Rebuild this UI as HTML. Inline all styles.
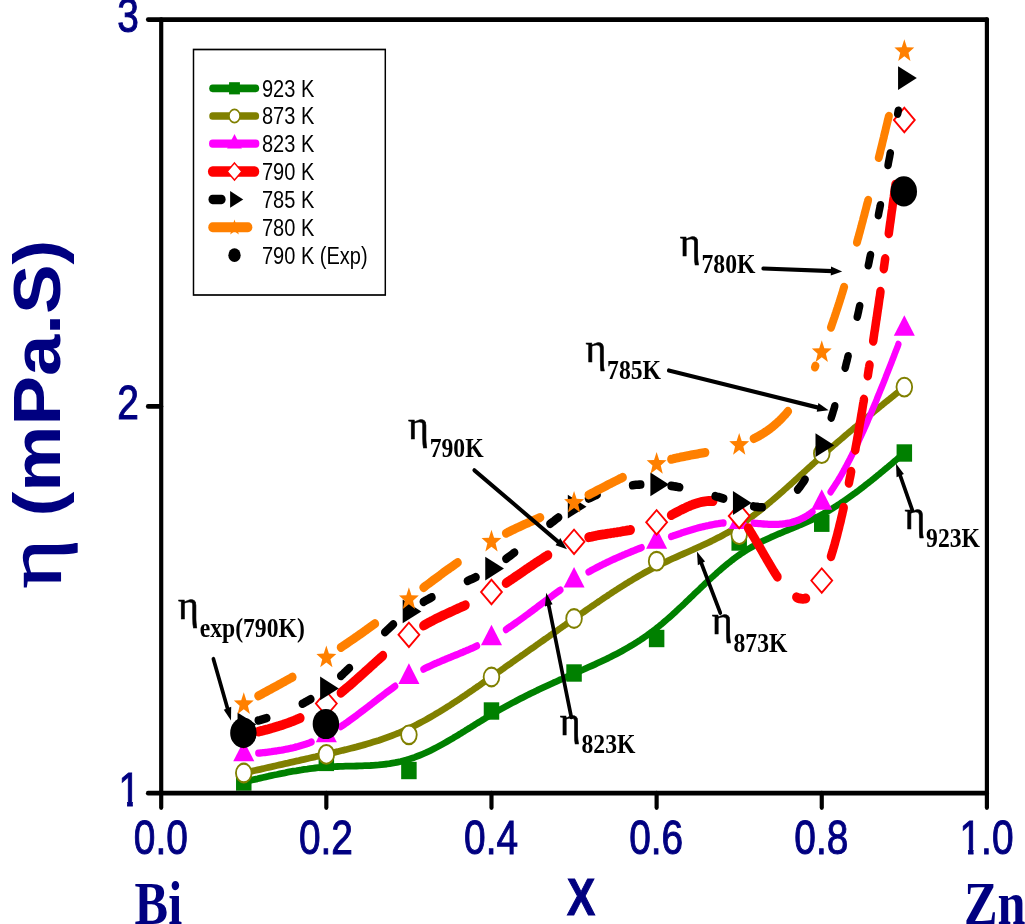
<!DOCTYPE html>
<html lang="en"><head><meta charset="utf-8"><title>Viscosity of Bi-Zn liquid alloys</title>
<style>html,body{margin:0;padding:0;background:#fff}body{width:1025px;height:924px;overflow:hidden}svg{display:block}</style>
</head><body>
<svg width="1025" height="924" viewBox="0 0 1025 924">
<rect width="1025" height="924" fill="#fff"/>
<g transform="scale(0.87,1)">
<g id="s-green">
<path d="M280.2 782 283.4 781.3 286.5 780.7 289.7 780 292.8 779.4 296 778.8 299.2 778.1 302.3 777.5 305.5 776.9 308.7 776.2 311.8 775.6 315 775 318.2 774.5 321.3 773.9 324.5 773.3 327.6 772.8 330.8 772.2 334 771.7 337.1 771.2 340.3 770.8 343.5 770.3 346.6 769.9 349.8 769.4 353 769.1 356.1 768.7 359.3 768.3 362.4 768 365.6 767.7 368.8 767.5 371.9 767.2 375.1 767 378.3 766.8 381.4 766.7 384.6 766.6 387.8 766.5 390.9 766.4 394.1 766.3 397.2 766.2 400.4 766.2 403.6 766.1 406.7 766.1 409.9 766 413.1 765.9 416.2 765.8 419.4 765.7 422.6 765.6 425.7 765.5 428.9 765.3 432 765.1 435.2 764.9 438.4 764.6 441.5 764.3 444.7 764 447.9 763.6 451 763.1 454.2 762.7 457.4 762.1 460.5 761.5 463.7 760.8 466.8 760.1 470 759.2 473.2 758.3 476.3 757.4 479.5 756.3 482.7 755.2 485.8 754.1 489 752.9 492.2 751.6 495.3 750.3 498.5 748.9 501.6 747.5 504.8 746 508 744.5 511.1 743 514.3 741.4 517.5 739.8 520.6 738.2 522.2 737.3 523.8 736.5 525.4 735.7 527 734.9 528.5 734 530.1 733.2 531.7 732.3 533.3 731.5 534.9 730.6 536.4 729.8 538 728.9 539.6 728.1 541.2 727.2 542.8 726.4 544.4 725.5 545.9 724.6 547.5 723.8 549.1 722.9 550.7 722.1 552.3 721.2 553.8 720.4 555.4 719.6 557 718.7 558.6 717.9 560.2 717 561.8 716.2 563.3 715.4 566.5 713.8 569.7 712.2 572.8 710.6 576 709 579.2 707.5 582.3 706 585.5 704.5 588.6 703 591.8 701.6 595 700.1 598.1 698.7 601.3 697.3 604.5 695.9 607.6 694.5 610.8 693.2 614 691.9 617.1 690.5 620.3 689.2 623.4 687.9 626.6 686.6 629.8 685.3 632.9 684.1 636.1 682.8 639.3 681.6 642.4 680.3 645.6 679.1 648.8 677.8 651.9 676.6 655.1 675.4 658.2 674.2 661.4 673 664.6 671.8 667.7 670.6 670.9 669.4 674.1 668.1 677.2 666.9 680.4 665.7 683.6 664.5 686.7 663.2 689.9 661.9 693 660.6 696.2 659.3 699.4 658 702.5 656.6 705.7 655.2 708.9 653.8 712 652.4 715.2 650.9 718.4 649.3 721.5 647.8 724.7 646.1 726.3 645.3 727.8 644.5 729.4 643.6 731 642.8 732.6 641.9 734.2 641 735.8 640.1 737.3 639.2 738.9 638.3 740.5 637.3 742.1 636.4 743.7 635.4 745.2 634.4 746.8 633.4 748.4 632.4 750 631.4 751.6 630.3 753.2 629.2 754.7 628.2 756.3 627.1 757.9 625.9 759.5 624.8 761.1 623.7 762.6 622.5 764.2 621.3 765.8 620.1 767.4 618.9 769 617.7 770.6 616.5 772.1 615.3 773.7 614 775.3 612.8 776.9 611.5 778.5 610.2 780 608.9 781.6 607.6 783.2 606.4 784.8 605.1 786.4 603.8 788 602.4 789.5 601.1 791.1 599.8 792.7 598.5 794.3 597.2 795.9 595.9 797.4 594.5 799 593.2 800.6 591.9 802.2 590.6 803.8 589.3 805.4 587.9 806.9 586.6 808.5 585.3 810.1 584 811.7 582.7 813.3 581.4 814.8 580.2 816.4 578.9 818 577.6 819.6 576.4 821.2 575.1 822.8 573.9 824.3 572.6 825.9 571.4 827.5 570.2 829.1 569 830.7 567.8 832.2 566.7 833.8 565.5 835.4 564.4 837 563.3 838.6 562.2 840.2 561.1 841.7 560 843.3 559 844.9 557.9 846.5 556.9 848.1 555.9 849.6 555 851.2 554 852.8 553.1 854.4 552.2 856 551.3 857.6 550.4 859.1 549.6 860.7 548.7 863.9 547.1 867 545.6 870.2 544.1 873.4 542.6 876.5 541.2 879.7 539.9 882.9 538.6 886 537.3 889.2 536.1 892.4 534.9 895.5 533.7 898.7 532.6 901.8 531.4 905 530.3 908.2 529.1 911.3 528 914.5 526.8 917.7 525.7 920.8 524.5 924 523.3 927.2 522.1 930.3 520.8 933.5 519.5 936.6 518.2 939.8 516.8 943 515.4 946.2 513.9 947.8 513.1 949.4 512.3 951 511.5 952.6 510.7 954.2 509.9 955.8 509 957.4 508.1 959 507.3 960.6 506.4 962.2 505.5 963.9 504.6 965.5 503.7 967.1 502.7 968.7 501.8 970.3 500.8 971.9 499.9 973.5 498.9 975.1 497.9 976.7 496.9 978.3 495.9 979.9 494.9 981.5 493.9 983.2 492.9 984.8 491.8 986.4 490.8 988 489.7 989.6 488.6 991.2 487.6 992.8 486.5 994.4 485.4 996 484.3 997.6 483.2 999.2 482.1 1000.9 481 1002.5 479.9 1004.1 478.7 1005.7 477.6 1007.3 476.5 1008.9 475.3 1010.5 474.2 1012.1 473 1013.7 471.9 1015.3 470.7 1016.9 469.5 1018.5 468.4 1020.2 467.2 1021.8 466 1023.4 464.9 1025 463.7 1026.6 462.5 1028.2 461.3 1029.8 460.1 1031.4 458.9 1033 457.8 1034.6 456.6 1036.2 455.4 1037.9 454.2 1039.5 453" fill="none" stroke="#008000" stroke-width="6.8" stroke-linejoin="round"/>
<rect x="271.3" y="773.3" width="17.8" height="17.4" fill="#008000"/>
<rect x="366.2" y="753.7" width="17.8" height="17.4" fill="#008000"/>
<rect x="461.11" y="761.8" width="17.8" height="17.4" fill="#008000"/>
<rect x="556.02" y="702.3" width="17.8" height="17.4" fill="#008000"/>
<rect x="650.93" y="664.3" width="17.8" height="17.4" fill="#008000"/>
<rect x="745.84" y="629.8" width="17.8" height="17.4" fill="#008000"/>
<rect x="840.74" y="533.3" width="17.8" height="17.4" fill="#008000"/>
<rect x="935.65" y="514.5" width="17.8" height="17.4" fill="#008000"/>
<rect x="1030.56" y="444.3" width="17.8" height="17.4" fill="#008000"/>
</g>
<g id="s-olive">
<path d="M280.2 773 283.4 772.4 286.5 771.8 289.7 771.1 292.8 770.5 296 769.9 299.2 769.3 302.3 768.7 305.5 768 308.7 767.4 311.8 766.8 315 766.2 318.2 765.5 321.3 764.9 324.5 764.3 327.6 763.7 330.8 763.1 334 762.4 337.1 761.8 340.3 761.2 343.5 760.6 346.6 759.9 349.8 759.3 353 758.7 356.1 758 359.3 757.4 362.4 756.8 365.6 756.1 368.8 755.5 371.9 754.9 375.1 754.2 378.3 753.6 381.4 753 384.6 752.3 387.8 751.7 390.9 751 394.1 750.3 397.2 749.7 400.4 749 403.6 748.3 406.7 747.6 409.9 746.9 413.1 746.1 416.2 745.4 419.4 744.6 422.6 743.8 425.7 743 428.9 742.1 432 741.3 435.2 740.4 438.4 739.4 441.5 738.5 444.7 737.5 447.9 736.5 451 735.5 454.2 734.4 457.4 733.3 460.5 732.1 463.7 730.9 466.8 729.7 470 728.4 473.2 727.1 476.3 725.8 479.5 724.4 482.7 722.9 485.8 721.5 489 720 492.2 718.4 495.3 716.9 498.5 715.3 501.6 713.6 503.2 712.8 504.8 712 506.4 711.1 508 710.3 509.6 709.4 511.1 708.6 512.7 707.7 514.3 706.8 515.9 706 517.5 705.1 519 704.2 520.6 703.3 522.2 702.4 523.8 701.5 525.4 700.6 527 699.7 528.5 698.8 530.1 697.8 531.7 696.9 533.3 696 534.9 695.1 536.4 694.1 538 693.2 539.6 692.2 541.2 691.3 542.8 690.4 544.4 689.4 545.9 688.4 547.5 687.5 549.1 686.5 550.7 685.6 552.3 684.6 553.8 683.7 555.4 682.7 557 681.7 558.6 680.8 560.2 679.8 561.8 678.8 563.3 677.9 564.9 676.9 566.5 675.9 568.1 674.9 569.7 674 571.2 673 572.8 672 574.4 671.1 576 670.1 577.6 669.1 579.2 668.2 580.7 667.2 582.3 666.2 583.9 665.2 585.5 664.3 587.1 663.3 588.6 662.3 590.2 661.4 591.8 660.4 593.4 659.4 595 658.4 596.6 657.5 598.1 656.5 599.7 655.5 601.3 654.6 602.9 653.6 604.5 652.6 606 651.6 607.6 650.7 609.2 649.7 610.8 648.7 612.4 647.8 614 646.8 615.5 645.8 617.1 644.8 618.7 643.9 620.3 642.9 621.9 641.9 623.4 641 625 640 626.6 639 628.2 638.1 629.8 637.1 631.4 636.1 632.9 635.1 634.5 634.2 636.1 633.2 637.7 632.2 639.3 631.3 640.8 630.3 642.4 629.3 644 628.4 645.6 627.4 647.2 626.4 648.8 625.5 650.3 624.5 651.9 623.5 653.5 622.6 655.1 621.6 656.7 620.6 658.2 619.7 659.8 618.7 661.4 617.7 663 616.8 664.6 615.8 666.2 614.8 667.7 613.9 669.3 612.9 670.9 612 672.5 611 674.1 610 675.6 609.1 677.2 608.1 678.8 607.2 680.4 606.2 682 605.3 683.6 604.3 685.1 603.4 686.7 602.5 688.3 601.5 689.9 600.6 691.5 599.6 693 598.7 694.6 597.8 696.2 596.9 697.8 596 699.4 595 701 594.1 702.5 593.2 704.1 592.3 705.7 591.4 707.3 590.5 708.9 589.6 710.4 588.7 712 587.9 713.6 587 715.2 586.1 716.8 585.2 718.4 584.4 719.9 583.5 721.5 582.7 723.1 581.8 724.7 581 726.3 580.2 727.8 579.3 729.4 578.5 732.6 576.9 735.8 575.3 738.9 573.7 742.1 572.2 745.2 570.7 748.4 569.2 751.6 567.7 754.7 566.3 757.9 564.9 761.1 563.6 764.2 562.3 767.4 561 770.6 559.7 773.7 558.4 776.9 557.2 780 556 783.2 554.7 786.4 553.5 789.5 552.3 792.7 551.1 795.9 549.9 799 548.6 802.2 547.4 805.4 546.2 808.5 544.9 811.7 543.6 814.8 542.3 818 541 821.2 539.6 824.3 538.2 827.5 536.8 830.7 535.3 833.8 533.8 837 532.3 840.2 530.7 841.7 529.8 843.3 529 844.9 528.2 846.5 527.3 848.1 526.4 849.6 525.5 851.2 524.6 852.8 523.7 854.4 522.8 856 521.8 857.6 520.9 859.1 519.9 860.7 518.9 862.3 517.9 863.9 516.9 865.5 515.9 867 514.8 868.6 513.8 870.2 512.7 871.8 511.6 873.4 510.6 875 509.5 876.5 508.4 878.1 507.3 879.7 506.1 881.3 505 882.9 503.9 884.4 502.7 886 501.6 887.6 500.4 889.2 499.2 890.8 498 892.4 496.9 893.9 495.7 895.5 494.5 897.1 493.3 898.7 492.1 900.3 490.8 901.8 489.6 903.4 488.4 905 487.2 906.6 485.9 908.2 484.7 909.8 483.5 911.3 482.2 912.9 481 914.5 479.7 916.1 478.5 917.7 477.2 919.2 476 920.8 474.7 922.4 473.5 924 472.2 925.6 471 927.2 469.7 928.7 468.5 930.3 467.2 931.9 466 933.5 464.7 935.1 463.5 936.6 462.2 938.2 461 939.8 459.7 941.4 458.5 943 457.2 944.6 456 946.2 454.8 947.8 453.5 949.4 452.3 951 451 952.6 449.8 954.2 448.6 955.8 447.4 957.4 446.1 959 444.9 960.6 443.7 962.2 442.5 963.9 441.3 965.5 440.1 967.1 438.9 968.7 437.7 970.3 436.5 971.9 435.3 973.5 434.1 975.1 432.9 976.7 431.8 978.3 430.6 979.9 429.4 981.5 428.2 983.2 427.1 984.8 425.9 986.4 424.7 988 423.6 989.6 422.4 991.2 421.2 992.8 420.1 994.4 418.9 996 417.8 997.6 416.6 999.2 415.5 1000.9 414.3 1002.5 413.2 1004.1 412 1005.7 410.9 1007.3 409.7 1008.9 408.6 1010.5 407.5 1012.1 406.3 1013.7 405.2 1015.3 404 1016.9 402.9 1018.5 401.8 1020.2 400.6 1021.8 399.5 1023.4 398.4 1025 397.3 1026.6 396.1 1028.2 395 1029.8 393.9 1031.4 392.7 1033 391.6 1034.6 390.5 1036.2 389.4 1037.9 388.2 1039.5 387.1" fill="none" stroke="#808000" stroke-width="6.8" stroke-linejoin="round"/>
<ellipse cx="280.2" cy="773" rx="9" ry="9.36" fill="#fff" stroke="#808000" stroke-width="2.1"/>
<ellipse cx="375.1" cy="754.4" rx="9" ry="9.36" fill="#fff" stroke="#808000" stroke-width="2.1"/>
<ellipse cx="470.01" cy="734.8" rx="9" ry="9.36" fill="#fff" stroke="#808000" stroke-width="2.1"/>
<ellipse cx="564.92" cy="677" rx="9" ry="9.36" fill="#fff" stroke="#808000" stroke-width="2.1"/>
<ellipse cx="659.83" cy="618.5" rx="9" ry="9.36" fill="#fff" stroke="#808000" stroke-width="2.1"/>
<ellipse cx="754.74" cy="561.2" rx="9" ry="9.36" fill="#fff" stroke="#808000" stroke-width="2.1"/>
<ellipse cx="849.64" cy="534.6" rx="9" ry="9.36" fill="#fff" stroke="#808000" stroke-width="2.1"/>
<ellipse cx="944.55" cy="453.6" rx="9" ry="9.36" fill="#fff" stroke="#808000" stroke-width="2.1"/>
<ellipse cx="1039.46" cy="387.1" rx="9" ry="9.36" fill="#fff" stroke="#808000" stroke-width="2.1"/>
</g>
<g id="s-mag">
<path d="M296.9 753.1 298.7 753 300.6 752.8 302.5 752.6 304.4 752.5 306.3 752.3 308.2 752.1 310.1 751.9 312 751.7 313.9 751.4 315.8 751.2 317.7 751 319.6 750.7 321.5 750.4 323.5 750.2 325.4 749.9 327.3 749.5 329.2 749.2 331.1 748.9 333 748.5 334.9 748.1 336.8 747.8 338.7 747.4 340.6 746.9 342.5 746.5 344.4 746 346.3 745.5 348.2 745 350.1 744.5 352 744 353.7 743.4 355.5 742.9 357.2 742.3 358.1 742 M391.8 726.6 393.3 725.7 394.9 724.8 396.5 723.8 398.1 722.9 399.7 721.9 401.2 720.9 402.8 719.9 404.4 718.9 406 717.9 407.6 716.9 409.2 715.9 410.8 714.8 412.3 713.8 413.9 712.7 415.5 711.7 417.1 710.6 418.7 709.6 420.3 708.5 421.8 707.5 423.4 706.4 425 705.3 426.6 704.3 428.2 703.2 429.8 702.1 431.4 701.1 432.9 700 434.5 698.9 436.1 697.9 437.7 696.8 439.3 695.8 440.9 694.7 442.4 693.7 444 692.6 445.6 691.6 447.2 690.6 448.8 689.6 450.4 688.6 451.9 687.6 453.5 686.6 454.2 686.2 M486.7 669.2 488.4 668.4 490.1 667.7 491.9 667 493.6 666.3 495.4 665.6 497.1 664.9 498.8 664.2 500.6 663.5 502.3 662.9 504.1 662.2 505.8 661.6 507.6 660.9 509.3 660.3 511 659.7 512.8 659 514.5 658.4 516.3 657.8 518 657.2 519.8 656.5 521.5 655.9 523.2 655.3 525 654.7 526.7 654.1 528.5 653.4 530.2 652.8 532 652.2 533.7 651.5 535.4 650.9 537.2 650.2 538.9 649.6 540.7 648.9 542.4 648.3 544.2 647.6 545.9 646.9 547.6 646.2 548.3 645.9 M581.6 629.6 583.1 628.7 584.7 627.7 586.3 626.8 587.9 625.9 589.5 624.9 591.1 623.9 592.6 623 594.2 622 595.8 621 597.4 620 599 619 600.6 618 602.2 617 603.7 616 605.3 615 606.9 614 608.5 612.9 610.1 611.9 611.7 610.9 613.2 609.9 614.8 608.8 616.4 607.8 618 606.7 619.6 605.7 621.2 604.7 622.8 603.6 624.3 602.6 625.9 601.6 627.5 600.5 629.1 599.5 630.7 598.5 632.3 597.5 633.8 596.5 635.4 595.4 637 594.4 638.6 593.4 640.2 592.4 641.8 591.4 643.3 590.5 644.1 590 M676.5 572 678.2 571.2 679.9 570.3 681.7 569.5 683.4 568.7 685.2 567.9 686.9 567.1 688.7 566.3 690.4 565.5 692.2 564.8 693.9 564 695.6 563.3 697.4 562.5 699.1 561.8 700.9 561.1 702.6 560.4 704.4 559.7 706.1 559 707.8 558.3 709.6 557.6 711.3 557 713.1 556.3 714.8 555.7 716.6 555 718.3 554.4 720 553.7 721.8 553.1 723.5 552.5 725.3 551.8 727 551.2 728.8 550.6 730.5 550 732.2 549.4 734 548.8 735.7 548.2 737.5 547.6 M771.4 536.6 773.3 536 775 535.4 776.8 534.9 778.5 534.4 780.2 533.9 782 533.4 783.9 532.8 785.8 532.3 787.7 531.7 789.6 531.2 791.5 530.7 793.4 530.2 795.3 529.7 797.2 529.2 799.1 528.7 801 528.3 802.9 527.8 804.8 527.4 806.7 527 808.6 526.6 810.5 526.2 812.4 525.8 814.3 525.5 816.2 525.1 818.1 524.8 820 524.5 821.9 524.2 823.8 523.9 825.7 523.7 827.6 523.4 829.5 523.2 831.4 523 831.6 523 M866.3 523.1 868.2 523.3 870.1 523.4 872 523.6 873.9 523.7 875.8 523.9 877.7 524 879.6 524.1 881.5 524.2 883.4 524.3 885.3 524.4 887.2 524.4 889.1 524.4 891 524.4 892.9 524.4 894.8 524.3 896.7 524.2 898.6 524.1 900.5 523.9 902.4 523.7 904.3 523.4 906.2 523.1 908.1 522.8 910 522.4 911.9 521.9 913.8 521.4 915.6 520.8 917.3 520.3 919 519.6 920.8 518.9 922.5 518.2 924.3 517.4 926 516.5 927.6 515.7 929.2 514.8 930.8 513.8 932.4 512.8 933.9 511.8 M954.7 491.9 955.8 490.5 956.9 489.1 958 487.6 959.1 486.2 960.2 484.7 961.3 483.2 962.5 481.6 963.6 480 964.5 478.7 965.5 477.3 966.4 475.9 967.4 474.4 968.3 473 969.3 471.5 970.2 470 971.2 468.5 972.1 467 973.1 465.5 974 463.9 975 462.3 975.9 460.7 976.9 459.1 977.8 457.5 978.8 455.9 979.7 454.2 980.7 452.5 981.6 450.8 982.6 449.1 983.5 447.4 984.5 445.7 985.3 444.2 986.1 442.8 986.9 441.3 987.6 439.8 988.4 438.3 989.2 436.8 990 435.3 990.8 433.8 991.6 432.2 992.4 430.7 993.2 429.2 994 427.6 994.8 426 995.6 424.5 996.4 422.9 997.2 421.3 997.9 419.7 998.7 418.1 999.5 416.5 1000.3 414.9 1001.1 413.3 1001.9 411.6 1002.7 410 1003.5 408.3 1004.3 406.7 1005.1 405 1005.9 403.4 1006.7 401.7 1007.5 400 1008.2 398.3 1009 396.6 1009.8 395 1010.6 393.3 1011.4 391.5 1012.2 389.8 1013 388.1 1013.8 386.4 1014.6 384.7 1015.4 383 1016.2 381.2 1017 379.5 1017.8 377.7 1018.5 376 1019.3 374.3 1020.1 372.5 1020.9 370.7 1021.7 369 1022.5 367.2 1023.3 365.5 1024.1 363.7 1024.9 361.9 1025.7 360.1 1026.5 358.4 1027.3 356.6 1028.1 354.8 1028.8 353 1029.6 351.2 1030.4 349.5 1031.2 347.7 1032 345.9 1032.6 344.4" fill="none" stroke="#ff00ff" stroke-width="7.3" stroke-linecap="round" stroke-linejoin="round"/>
<path d="M280.2 740.67 L292.3 761.27 L268.1 761.27 Z" fill="#ff00ff"/>
<path d="M375.1 721.57 L387.2 742.17 L363 742.17 Z" fill="#ff00ff"/>
<path d="M470.01 663.37 L482.11 683.97 L457.91 683.97 Z" fill="#ff00ff"/>
<path d="M564.92 624.77 L577.02 645.37 L552.82 645.37 Z" fill="#ff00ff"/>
<path d="M659.83 566.97 L671.93 587.57 L647.73 587.57 Z" fill="#ff00ff"/>
<path d="M754.74 528.17 L766.84 548.77 L742.64 548.77 Z" fill="#ff00ff"/>
<path d="M849.64 508.47 L861.74 529.07 L837.54 529.07 Z" fill="#ff00ff"/>
<path d="M944.55 489.27 L956.65 509.87 L932.45 509.87 Z" fill="#ff00ff"/>
<path d="M1039.46 315.27 L1051.56 335.87 L1027.36 335.87 Z" fill="#ff00ff"/>
</g>
<g id="s-red">
<path d="M296.9 731.7 298.7 731.3 300.6 730.9 302.5 730.5 304.4 730 306.3 729.6 308.2 729.2 310.1 728.7 312 728.2 313.9 727.8 315.8 727.3 317.7 726.8 319.6 726.3 321.5 725.7 323.5 725.2 325.4 724.7 327.1 724.1 328.8 723.6 330.6 723.1 332.3 722.5 334.1 722 335.8 721.4 337.6 720.8 339.3 720.2 341 719.5 342.8 718.9 344.5 718.2 345.2 718 M391.8 692.8 393.3 691.7 394.8 690.7 396.2 689.6 397.6 688.6 399 687.5 400.5 686.5 401.9 685.4 403.3 684.4 404.7 683.3 406.2 682.2 407.6 681.1 409 680 410.4 678.9 411.9 677.8 413.3 676.7 414.7 675.6 416.1 674.5 417.6 673.4 419 672.2 420.4 671.1 421.8 670 423.3 668.9 424.7 667.8 426.1 666.6 427.5 665.5 429 664.4 430.4 663.3 431.8 662.1 433.3 661 434.7 659.9 436.1 658.8 437.5 657.7 439 656.6 440.1 655.7 M486.7 625.6 488.4 624.8 490.1 623.9 491.9 623.1 493.6 622.3 495.4 621.4 497.1 620.7 498.8 619.9 500.6 619.1 502.3 618.3 504.1 617.6 505.8 616.9 507.6 616.1 509.3 615.4 511 614.7 512.8 614 514.5 613.3 516.3 612.6 518 611.9 519.8 611.2 521.5 610.5 523.2 609.8 525 609.1 526.7 608.4 528.5 607.7 530.2 607 532 606.4 533.7 605.7 535 605.1 M581.6 583.1 583.1 582.2 584.7 581.3 586.3 580.3 587.9 579.4 589.5 578.5 591.1 577.6 592.6 576.6 594.2 575.7 595.8 574.8 597.4 573.8 599 572.9 600.6 571.9 602.2 571 603.7 570 605.3 569.1 606.9 568.2 608.5 567.2 610.1 566.3 611.7 565.4 613.2 564.4 614.8 563.5 616.4 562.6 618 561.7 619.6 560.8 621.2 559.9 622.8 559 624.3 558.1 625.9 557.2 627.5 556.4 629.1 555.5 629.9 555.1 M676.5 537.3 678.4 536.9 680.3 536.6 682.2 536.2 684.1 535.9 686 535.5 687.9 535.2 689.8 534.9 691.7 534.6 693.6 534.3 695.5 534.1 697.4 533.8 699.3 533.5 701.2 533.3 703.1 533 705 532.8 706.9 532.5 708.8 532.3 710.7 532 712.6 531.8 714.5 531.5 716.4 531.2 718.3 531 720.2 530.7 722.1 530.4 724 530.1 724.9 529.9 M771.4 515.2 773.1 514.4 774.9 513.6 776.6 512.8 778.3 512 780.1 511.2 781.8 510.4 783.6 509.6 785.3 508.9 787.1 508.2 788.8 507.4 790.5 506.7 792.3 506.1 794 505.4 795.8 504.8 797.5 504.3 799.3 503.7 801.2 503.2 803.1 502.7 805 502.3 806.9 501.9 808.8 501.6 810.7 501.3 812.6 501.1 814.5 501 816.4 501 818.3 501 819.8 501.1 M860 528.1 861.1 529.5 862.2 531 863.3 532.6 864.4 534.1 865.5 535.7 866.6 537.3 867.5 538.7 868.5 540.1 869.4 541.5 870.4 542.9 871.4 544.3 872.3 545.7 873.3 547.2 874.2 548.6 875.2 550 876.1 551.5 877.1 552.9 878 554.4 879 555.8 879.9 557.2 880.9 558.7 881.8 560.1 882.8 561.5 883.7 562.9 884.7 564.3 885.6 565.7 886.6 567.1 887.7 568.7 888.8 570.3 889.9 571.8 891 573.4 892.1 574.9 893.2 576.4 893.6 576.8 M915.4 597.2 917.1 597.9 919 598.4 920.9 598.7 922.8 598.8 924.7 598.7 926.4 598.4 M955.2 556.4 955.8 554.7 956.4 552.9 957.1 551 957.7 549.2 958.3 547.3 959 545.3 959.6 543.4 960.2 541.4 960.9 539.3 961.5 537.3 962 535.7 962.5 534.1 962.9 532.5 963.4 530.9 963.9 529.3 964.4 527.6 964.8 525.9 965.3 524.2 965.8 522.5 966.3 520.8 966.7 519.1 967.2 517.3 967.7 515.5 968.2 513.7 968.6 511.9 969.1 510.1 969.6 508.2 969.7 507.6 M975.8 482.9 976.2 480.8 976.7 478.7 977.2 476.7 977.7 474.6 978.1 472.4 978.3 471.7 M983.1 449.8 983.5 447.5 984 445.2 984.5 442.9 985 440.6 985.4 438.3 985.9 436 986.4 433.6 986.9 431.3 987.2 429.7 987.5 428.1 987.8 426.5 988.1 424.9 988.4 423.3 988.8 421.7 989.1 420.1 989.4 418.5 989.7 416.9 990 415.2 990.3 413.6 990.7 412 991 410.3 991.3 408.7 991.6 407 991.9 405.4 992.2 403.7 992.6 402 992.9 400.4 993 399.5 M997.5 375.6 997.8 373.9 998.1 372.1 998.4 370.4 998.7 368.6 999.1 366.9 999.4 365.1 M1003.7 340.9 1004 339.1 1004.3 337.3 1004.6 335.5 1004.9 333.6 1005.2 331.8 1005.6 330 1005.9 328.1 1006.2 326.3 1006.5 324.4 1006.8 322.6 1007.1 320.7 1007.5 318.9 1007.8 317 1008.1 315.2 1008.4 313.3 1008.7 311.4 1009 309.6 1009.4 307.7 1009.7 305.8 1010 303.9 1010.3 302 1010.6 300.1 1010.9 298.3 1011.3 296.4 1011.6 294.5 1011.9 292.6 1012 291.6 M1015.9 268.6 1016.2 266.6 1016.5 264.7 1016.8 262.8 1017.1 260.8 1017.4 258.9 M1021.6 233.4 1021.9 231.4 1022.2 229.5 1022.5 227.5 1022.8 225.5 1023.1 223.5 1023.5 221.5 1023.8 219.6 1024.1 217.6 1024.4 215.6 1024.7 213.6 1025 211.6 1025.4 209.6 1025.7 207.6 1026 205.6 1026.3 203.6 1026.6 201.6 1026.9 199.6 1027.3 197.6 1027.6 195.6 1027.9 193.6 1028.2 191.6 1028.5 189.6 1028.8 187.6 1029.2 185.6 1029.3 184.6" fill="none" stroke="#ff0000" stroke-width="9.8" stroke-linecap="round" stroke-linejoin="round"/>
<path d="M280.2 723 L292.2 735.2 L280.2 747.4 L268.2 735.2 Z" fill="#fff" stroke="#ff0000" stroke-width="2"/>
<path d="M375.1 691.4 L387.1 703.6 L375.1 715.8 L363.1 703.6 Z" fill="#fff" stroke="#ff0000" stroke-width="2"/>
<path d="M470.01 622.6 L482.01 634.8 L470.01 647 L458.01 634.8 Z" fill="#fff" stroke="#ff0000" stroke-width="2"/>
<path d="M564.92 579.8 L576.92 592 L564.92 604.2 L552.92 592 Z" fill="#fff" stroke="#ff0000" stroke-width="2"/>
<path d="M659.83 529.6 L671.83 541.8 L659.83 554 L647.83 541.8 Z" fill="#fff" stroke="#ff0000" stroke-width="2"/>
<path d="M754.74 510.1 L766.74 522.3 L754.74 534.5 L742.74 522.3 Z" fill="#fff" stroke="#ff0000" stroke-width="2"/>
<path d="M849.64 503.8 L861.64 516 L849.64 528.2 L837.64 516 Z" fill="#fff" stroke="#ff0000" stroke-width="2"/>
<path d="M944.55 568.4 L956.55 580.6 L944.55 592.8 L932.55 580.6 Z" fill="#fff" stroke="#ff0000" stroke-width="2"/>
<path d="M1039.46 107.8 L1051.46 120 L1039.46 132.2 L1027.46 120 Z" fill="#fff" stroke="#ff0000" stroke-width="2"/>
</g>
<g id="s-black">
<path d="M296.9 720.5 298.7 720.1 300.6 719.6 302.5 719.1 304.4 718.6 306.3 718.1 306.6 718 M347.5 703.8 349.1 703.1 350.9 702.2 352.6 701.4 354.3 700.5 356.1 699.6 357.2 699.1 M391.8 676 393.2 674.9 394.6 673.8 396 672.6 397.4 671.4 398.9 670.2 400.3 669 401.5 668 M442.4 632.3 443.7 631.2 445.1 630 446.6 628.8 448 627.7 449.4 626.5 450.8 625.4 452.1 624.3 M486.7 601.9 488.4 601 490.1 600.2 491.9 599.3 493.6 598.5 495.4 597.7 496.4 597.2 M537.3 581 539.1 580.3 540.8 579.6 542.6 578.9 544.3 578.2 546.1 577.5 547.1 577.1 M581.6 558.9 583.1 557.9 584.7 556.8 586.3 555.8 587.9 554.8 589.5 553.7 591.1 552.7 591.4 552.5 M632.2 523.9 633.7 522.9 635.3 521.8 636.9 520.8 638.4 519.7 640 518.7 641.6 517.7 642 517.4 M676.5 498.6 678.2 497.9 679.9 497.2 681.7 496.5 683.4 495.8 685.2 495.1 686.3 494.7 M727.1 485.2 729.1 485 731 484.8 732.9 484.7 734.8 484.6 736.5 484.5 M771.4 485.9 773.3 486.1 775.2 486.4 777.1 486.6 779 486.9 780.9 487.2 781.2 487.3 M822 496.1 823.8 496.6 825.7 497 827.6 497.5 829.5 498 831.4 498.5 831.8 498.6 M866.3 506.4 868.2 506.7 870.1 506.9 872 507.1 873.9 507.2 875.8 507.3 876.1 507.3 M916.9 489.6 918.1 488.4 919.4 487 920.6 485.5 921.7 484.2 922.8 482.8 924 481.4 925.1 479.9 925.3 479.6 M955.5 417.7 956.1 415.9 956.8 414.1 957.4 412.3 958 410.5 958.7 408.7 959.3 406.8 959.4 406.3 M971.5 367.8 972 366.2 972.4 364.5 972.9 362.9 973.4 361.2 973.9 359.6 974.3 357.9 974.8 356.2 M985.4 316.7 985.9 314.8 986.4 312.9 986.9 311.1 987.3 309.2 987.8 307.3 988.1 306.1 M998.1 265.2 998.6 263.2 999.1 261.2 999.5 259.1 1000 257.1 1000.5 255.1 M1009.7 215.1 1010.1 212.9 1010.6 210.8 1011.1 208.7 1011.6 206.6 1011.9 205.2 M1020.8 165 1021.2 162.8 1021.7 160.6 1022.2 158.4 1022.7 156.2 1023.1 154 1023.3 153.3 M1031.9 113.6 1032.3 111.4 1032.5 110.7" fill="none" stroke="#000000" stroke-width="8.6" stroke-linecap="round" stroke-linejoin="round"/>
<path d="M273.03 712.6 L294.53 724.5 L273.03 736.4 Z" fill="#000000"/>
<path d="M367.94 676.5 L389.44 688.4 L367.94 700.3 Z" fill="#000000"/>
<path d="M462.84 599.5 L484.34 611.4 L462.84 623.3 Z" fill="#000000"/>
<path d="M557.75 556.7 L579.25 568.6 L557.75 580.5 Z" fill="#000000"/>
<path d="M652.66 494.8 L674.16 506.7 L652.66 518.6 Z" fill="#000000"/>
<path d="M747.57 472.5 L769.07 484.4 L747.57 496.3 Z" fill="#000000"/>
<path d="M842.48 491.1 L863.98 503 L842.48 514.9 Z" fill="#000000"/>
<path d="M937.39 433.3 L958.89 445.2 L937.39 457.1 Z" fill="#000000"/>
<path d="M1032.29 66.2 L1053.79 78.1 L1032.29 90 Z" fill="#000000"/>
</g>
<g id="s-orange">
<path d="M296.9 695.9 298.6 695.1 300.3 694.3 302.1 693.5 303.8 692.6 305.5 691.8 307.3 691 309 690.2 310.8 689.4 312.5 688.5 314.3 687.7 316 686.9 317.7 686.1 319.5 685.2 321.2 684.4 323 683.6 324.7 682.7 326.5 681.9 328.2 681 329.9 680.2 331.7 679.3 333.4 678.5 335.2 677.6 336.2 677.1 M391.8 647.5 393.3 646.6 394.9 645.6 396.5 644.7 398.1 643.8 399.7 642.8 401.2 641.9 402.8 641 404.4 640 406 639.1 407.6 638.1 409.2 637.1 410.8 636.2 412.3 635.2 413.9 634.3 415.5 633.3 417.1 632.3 418.7 631.3 420.3 630.4 421.8 629.4 423.4 628.4 425 627.4 426.6 626.4 428.2 625.4 429.8 624.4 431.1 623.6 M486.7 587.6 488.2 586.6 489.8 585.5 491.4 584.5 493 583.5 494.6 582.4 496.2 581.4 497.7 580.4 499.3 579.3 500.9 578.3 502.5 577.3 504.1 576.3 505.7 575.3 507.2 574.3 508.8 573.2 510.4 572.2 512 571.2 513.6 570.2 515.2 569.2 516.8 568.3 518.3 567.3 519.9 566.3 521.5 565.3 523.1 564.3 524.7 563.4 526.1 562.5 M581.6 533.3 583.3 532.5 585 531.8 586.8 531 588.5 530.3 590.3 529.6 592 528.8 593.8 528.1 595.5 527.4 597.2 526.7 599 526 600.7 525.3 602.5 524.6 604.2 523.9 606 523.2 607.7 522.6 609.4 521.9 611.2 521.2 612.9 520.5 614.7 519.9 616.4 519.2 618.2 518.5 619.9 517.9 621 517.5 M676.5 494.9 678.2 494.2 679.9 493.4 681.7 492.6 683.4 491.8 685.2 491 686.9 490.2 688.7 489.4 690.4 488.7 692.2 487.9 693.9 487.1 695.6 486.3 697.4 485.5 699.1 484.7 700.9 483.9 702.6 483.2 704.4 482.4 706.1 481.6 707.8 480.9 709.6 480.1 711.3 479.3 713.1 478.6 714.8 477.8 715.9 477.4 M771.4 459.2 773.3 458.9 775.2 458.5 777.1 458.1 779 457.7 780.9 457.4 782.8 457 784.7 456.7 786.6 456.4 788.5 456.1 790.4 455.7 792.3 455.4 794.2 455.1 796.1 454.8 798 454.5 799.9 454.2 801.8 453.9 803.7 453.6 805.6 453.3 807.5 453 809.4 452.7 810.8 452.5 M866.3 438.6 868 437.9 869.8 437.1 871.5 436.3 873.3 435.5 875 434.6 876.6 433.8 878.2 432.9 879.7 432 881.3 431.1 882.9 430.1 884.5 429.1 886.1 428.1 887.7 427 889.1 426 890.5 424.9 891.9 423.8 893.4 422.7 894.8 421.6 896.2 420.4 897.7 419.2 899.1 417.9 900.3 416.7 901.6 415.5 902.9 414.3 904.1 413 905.4 411.7 905.7 411.4 M936.8 367 937.2 366.1 M955.2 327.2 955.8 325.7 956.4 324.1 957.1 322.5 957.7 320.9 958.3 319.3 959 317.7 959.6 316.1 960.2 314.4 960.9 312.8 961.5 311.1 962.1 309.4 962.8 307.8 963.4 306.1 964 304.4 964.7 302.6 965.3 300.9 965.9 299.2 966.6 297.4 967.2 295.7 967.8 293.9 968.5 292.1 969.1 290.3 969.7 288.5 970.2 287.2 M985.1 242.1 985.7 240.1 986.4 238.1 987 236.1 987.6 234 988.3 232 988.9 229.9 989.4 228.4 989.9 226.8 990.3 225.3 990.8 223.7 991.3 222.1 991.8 220.6 992.2 219 992.7 217.4 993.2 215.8 993.7 214.3 994.1 212.7 994.6 211.1 995.1 209.5 995.6 207.9 996 206.3 996.5 204.7 997 203.1 997.5 201.5 997.8 200.4 M1010.1 157.5 1010.6 155.8 1011.1 154.1 1011.6 152.4 1012 150.7 1012.5 149 1013 147.3 1013.5 145.6 1014 143.9 1014.4 142.2 1014.9 140.5 1015.4 138.8 1015.9 137.1 1016.3 135.3 1016.8 133.6 1017.3 131.9 1017.8 130.2 1018.2 128.5 1018.7 126.8 1019.2 125 1019.7 123.3 1020.1 121.6 1020.6 119.9 1021.1 118.1 1021.6 116.4" fill="none" stroke="#ff8000" stroke-width="9.1" stroke-linecap="round" stroke-linejoin="round"/>
<path d="M280.2 692.3 L283.13 700.25 L291.61 700.59 L284.95 705.85 L287.25 714.01 L280.2 709.3 L273.14 714.01 L275.44 705.85 L268.78 700.59 L277.26 700.25 Z" fill="#ff8000"/>
<path d="M375.1 645.6 L378.04 653.55 L386.52 653.89 L379.86 659.15 L382.16 667.31 L375.1 662.6 L368.05 667.31 L370.35 659.15 L363.69 653.89 L372.16 653.55 Z" fill="#ff8000"/>
<path d="M470.01 587.2 L472.95 595.15 L481.42 595.49 L474.77 600.75 L477.06 608.91 L470.01 604.2 L462.96 608.91 L465.26 600.75 L458.6 595.49 L467.07 595.15 Z" fill="#ff8000"/>
<path d="M564.92 529.7 L567.86 537.65 L576.33 537.99 L569.67 543.25 L571.97 551.41 L564.92 546.7 L557.87 551.41 L560.16 543.25 L553.51 537.99 L561.98 537.65 Z" fill="#ff8000"/>
<path d="M659.83 490.9 L662.77 498.85 L671.24 499.19 L664.58 504.45 L666.88 512.61 L659.83 507.9 L652.77 512.61 L655.07 504.45 L648.41 499.19 L656.89 498.85 Z" fill="#ff8000"/>
<path d="M754.74 452 L757.67 459.95 L766.15 460.29 L759.49 465.55 L761.79 473.71 L754.74 469 L747.68 473.71 L749.98 465.55 L743.32 460.29 L751.8 459.95 Z" fill="#ff8000"/>
<path d="M849.64 433 L852.58 440.95 L861.06 441.29 L854.4 446.55 L856.7 454.71 L849.64 450 L842.59 454.71 L844.89 446.55 L838.23 441.29 L846.7 440.95 Z" fill="#ff8000"/>
<path d="M944.55 340.2 L947.49 348.15 L955.96 348.49 L949.31 353.75 L951.61 361.91 L944.55 357.2 L937.5 361.91 L939.8 353.75 L933.14 348.49 L941.61 348.15 Z" fill="#ff8000"/>
<path d="M1039.46 39.2 L1042.4 47.15 L1050.87 47.49 L1044.22 52.75 L1046.51 60.91 L1039.46 56.2 L1032.41 60.91 L1034.7 52.75 L1028.05 47.49 L1036.52 47.15 Z" fill="#ff8000"/>
</g>
<g id="s-exp">
<ellipse cx="279.77" cy="732.9" rx="15.2" ry="15.1" fill="#000"/>
<ellipse cx="374.6" cy="724" rx="15.2" ry="15.1" fill="#000"/>
<ellipse cx="1038.85" cy="191.4" rx="15.2" ry="15.1" fill="#000"/>
</g>
<g stroke="#000" stroke-width="4.8" stroke-linecap="round" fill="none">
<path d="M170.11 19.6 H1134.37"/>
<path d="M170.11 793.2 H1134.37"/>
<path d="M170.11 406.4 H185.29"/>
<path d="M185.29 19.6 V807.6"/>
<path d="M1134.37 19.6 V807.6"/>
<path d="M375.1 793.2 V807.6"/>
<path d="M564.92 793.2 V807.6"/>
<path d="M754.74 793.2 V807.6"/>
<path d="M944.55 793.2 V807.6"/>
</g>
<rect x="222.41" y="49.5" width="220.46" height="245.5" fill="#fff" stroke="#000" stroke-width="1.7"/>
<path d="M244.37 88.3 H294.02" stroke="#008000" stroke-width="7.7" stroke-linecap="round"/>
<rect x="263.31" y="82.21" width="12.46" height="12.18" fill="#008000"/>
<path d="M244.37 116 H294.02" stroke="#808000" stroke-width="7.7" stroke-linecap="round"/>
<ellipse cx="269.54" cy="116" rx="6.3" ry="6.55" fill="#fff" stroke="#808000" stroke-width="1.68"/>
<path d="M244.37 143.7 H294.02" stroke="#ff00ff" stroke-width="8.2" stroke-linecap="round"/>
<path d="M269.54 134.09 L278.01 148.51 L261.07 148.51 Z" fill="#ff00ff"/>
<path d="M244.37 171.5 H292.64" stroke="#ff0000" stroke-width="10.7" stroke-linecap="round"/>
<path d="M269.54 162.96 L277.94 171.5 L269.54 180.04 L261.14 171.5 Z" fill="#fff" stroke="#ff0000" stroke-width="1.6"/>
<path d="M244.37 199.4 H254.6" stroke="#000000" stroke-width="9.5" stroke-linecap="round"/>
<path d="M264.52 191.07 L279.57 199.4 L264.52 207.73 Z" fill="#000000"/>
<path d="M244.37 227.3 H285.06" stroke="#ff8000" stroke-width="10" stroke-linecap="round"/>
<path d="M269.54 219.39 L271.6 224.96 L277.53 225.19 L272.87 228.87 L274.48 234.59 L269.54 231.29 L264.6 234.59 L266.21 228.87 L261.55 225.19 L267.48 224.96 Z" fill="#ff8000"/>
<ellipse cx="269.54" cy="255.2" rx="7.1" ry="6.9" fill="#000"/>
<path d="M877.24 268.5 L957.05 271.14" stroke="#000" stroke-width="4.2" stroke-linecap="round"/><path d="M968.05 271.5 L954.9 275.57 L955.2 266.57 Z" fill="#000"/>
<path d="M768.74 370.5 L941.66 407.88" stroke="#000" stroke-width="4.2" stroke-linecap="round"/><path d="M952.41 410.2 L938.76 411.85 L940.66 403.06 Z" fill="#000"/>
<path d="M545.17 470.2 L642.89 542.74" stroke="#000" stroke-width="4.2" stroke-linecap="round"/><path d="M651.72 549.3 L638.6 545.16 L643.97 537.94 Z" fill="#000"/>
<path d="M245.29 659 L262.09 710.15" stroke="#000" stroke-width="4.2" stroke-linecap="round"/><path d="M265.52 720.6 L257.19 709.65 L265.74 706.84 Z" fill="#000"/>
<path d="M656.67 717.2 L630.3 603.42" stroke="#000" stroke-width="4.2" stroke-linecap="round"/><path d="M627.82 592.7 L635.13 604.35 L626.37 606.38 Z" fill="#000"/>
<path d="M827.93 612.9 L805.45 561.58" stroke="#000" stroke-width="4.2" stroke-linecap="round"/><path d="M801.03 551.5 L810.37 561.6 L802.13 565.21 Z" fill="#000"/>
<path d="M1048.62 510.1 L1033.99 473.71" stroke="#000" stroke-width="4.2" stroke-linecap="round"/><path d="M1029.89 463.5 L1038.91 473.88 L1030.56 477.24 Z" fill="#000"/>
</g>
<defs><clipPath id="c1"><path d="M100 760 H145 V800.6 H132.8 V808 H127.1 V800.6 H100 Z"/></clipPath><clipPath id="c10"><path d="M950 815 H1025 V860 H982 V848.4 H973.5 V860 H968.1 V848.4 H950 Z"/></clipPath></defs>
<text transform="translate(160.8,853.5) scale(0.816,1)" font-family="'Liberation Sans', Arial, sans-serif" font-size="47.6" fill="#000080" text-anchor="middle" stroke="#000080" stroke-width="1">0.0</text>
<text transform="translate(325.94,853.5) scale(0.816,1)" font-family="'Liberation Sans', Arial, sans-serif" font-size="47.6" fill="#000080" text-anchor="middle" stroke="#000080" stroke-width="1">0.2</text>
<text transform="translate(491.08,853.5) scale(0.816,1)" font-family="'Liberation Sans', Arial, sans-serif" font-size="47.6" fill="#000080" text-anchor="middle" stroke="#000080" stroke-width="1">0.4</text>
<text transform="translate(656.22,853.5) scale(0.816,1)" font-family="'Liberation Sans', Arial, sans-serif" font-size="47.6" fill="#000080" text-anchor="middle" stroke="#000080" stroke-width="1">0.6</text>
<text transform="translate(821.36,853.5) scale(0.816,1)" font-family="'Liberation Sans', Arial, sans-serif" font-size="47.6" fill="#000080" text-anchor="middle" stroke="#000080" stroke-width="1">0.8</text>
<g clip-path="url(#c10)"><text transform="translate(986.5,853.5) scale(0.816,1)" font-family="'Liberation Sans', Arial, sans-serif" font-size="47.6" fill="#000080" text-anchor="middle" stroke="#000080" stroke-width="1">1.0</text></g>
<text transform="translate(138.8,32.4) scale(0.816,1)" font-family="'Liberation Sans', Arial, sans-serif" font-size="47.6" fill="#000080" text-anchor="end" stroke="#000080" stroke-width="1">3</text>
<text transform="translate(138.8,419.2) scale(0.816,1)" font-family="'Liberation Sans', Arial, sans-serif" font-size="47.6" fill="#000080" text-anchor="end" stroke="#000080" stroke-width="1">2</text>
<g clip-path="url(#c1)"><text transform="translate(140.1,806) scale(0.816,1)" font-family="'Liberation Sans', Arial, sans-serif" font-size="47.6" fill="#000080" text-anchor="end" stroke="#000080" stroke-width="1">1</text></g>
<text transform="translate(581,914.6) scale(0.82,1)" font-family="'Liberation Sans', Arial, sans-serif" font-size="51.5" fill="#000080" font-weight="bold" text-anchor="middle" stroke="#000080" stroke-width="1.1">X</text>
<text transform="translate(134.6,924.3) scale(0.832,1)" font-family="'Liberation Serif', 'Times New Roman', serif" font-size="60.5" fill="#000080" font-weight="bold">Bi</text>
<text transform="translate(964,924.3) scale(0.832,1)" font-family="'Liberation Serif', 'Times New Roman', serif" font-size="60.5" fill="#000080" font-weight="bold">Zn</text>
<text transform="translate(60.3,516.4) rotate(-90) scale(1,0.905)" font-family="'Liberation Sans', Arial, sans-serif" font-weight="bold" font-size="74.3" fill="#000080">(mPa.S)</text>
<text transform="translate(59.5,588.2) rotate(-90) scale(1.05,0.87)" font-family="'Liberation Serif', 'Times New Roman', serif" font-size="90" fill="#000080" stroke="#000080" stroke-width="1.6">η</text>
<text transform="translate(262,96.6) scale(0.87,1)" font-family="'Liberation Sans', Arial, sans-serif" font-size="23" fill="#000">923 K</text>
<text transform="translate(262,124.3) scale(0.87,1)" font-family="'Liberation Sans', Arial, sans-serif" font-size="23" fill="#000">873 K</text>
<text transform="translate(262,152) scale(0.87,1)" font-family="'Liberation Sans', Arial, sans-serif" font-size="23" fill="#000">823 K</text>
<text transform="translate(262,179.8) scale(0.87,1)" font-family="'Liberation Sans', Arial, sans-serif" font-size="23" fill="#000">790 K</text>
<text transform="translate(262,207.7) scale(0.87,1)" font-family="'Liberation Sans', Arial, sans-serif" font-size="23" fill="#000">785 K</text>
<text transform="translate(262,235.6) scale(0.87,1)" font-family="'Liberation Sans', Arial, sans-serif" font-size="23" fill="#000">780 K</text>
<text transform="translate(262,263.5) scale(0.87,1)" font-family="'Liberation Sans', Arial, sans-serif" font-size="23" fill="#000">790 K (Exp)</text>
<text transform="translate(679.8,255.5) scale(0.95,1)" font-family="'Liberation Serif', 'Times New Roman', serif" font-size="42" fill="#000" stroke="#000" stroke-width="0.6">η</text>
<text transform="translate(701.5,273.3) scale(0.845,1)" font-family="'Liberation Serif', 'Times New Roman', serif" font-size="28" fill="#000" font-weight="bold">780K</text>
<text transform="translate(585.4,361.5) scale(0.95,1)" font-family="'Liberation Serif', 'Times New Roman', serif" font-size="42" fill="#000" stroke="#000" stroke-width="0.6">η</text>
<text transform="translate(607.1,379.3) scale(0.845,1)" font-family="'Liberation Serif', 'Times New Roman', serif" font-size="28" fill="#000" font-weight="bold">785K</text>
<text transform="translate(408,439) scale(0.95,1)" font-family="'Liberation Serif', 'Times New Roman', serif" font-size="42" fill="#000" stroke="#000" stroke-width="0.6">η</text>
<text transform="translate(429.7,456.8) scale(0.845,1)" font-family="'Liberation Serif', 'Times New Roman', serif" font-size="28" fill="#000" font-weight="bold">790K</text>
<text transform="translate(178,619) scale(0.95,1)" font-family="'Liberation Serif', 'Times New Roman', serif" font-size="42" fill="#000" stroke="#000" stroke-width="0.6">η</text>
<text transform="translate(199.7,636.8) scale(0.845,1)" font-family="'Liberation Serif', 'Times New Roman', serif" font-size="28" fill="#000" font-weight="bold">exp(790K)</text>
<text transform="translate(559.8,735.4) scale(0.95,1)" font-family="'Liberation Serif', 'Times New Roman', serif" font-size="42" fill="#000" stroke="#000" stroke-width="0.6">η</text>
<text transform="translate(581.5,753.2) scale(0.845,1)" font-family="'Liberation Serif', 'Times New Roman', serif" font-size="28" fill="#000" font-weight="bold">823K</text>
<text transform="translate(711.8,633.9) scale(0.95,1)" font-family="'Liberation Serif', 'Times New Roman', serif" font-size="42" fill="#000" stroke="#000" stroke-width="0.6">η</text>
<text transform="translate(733.5,651.7) scale(0.845,1)" font-family="'Liberation Serif', 'Times New Roman', serif" font-size="28" fill="#000" font-weight="bold">873K</text>
<text transform="translate(904.4,528.8) scale(0.95,1)" font-family="'Liberation Serif', 'Times New Roman', serif" font-size="42" fill="#000" stroke="#000" stroke-width="0.6">η</text>
<text transform="translate(926.1,546.6) scale(0.845,1)" font-family="'Liberation Serif', 'Times New Roman', serif" font-size="28" fill="#000" font-weight="bold">923K</text>
</svg>
</body></html>
